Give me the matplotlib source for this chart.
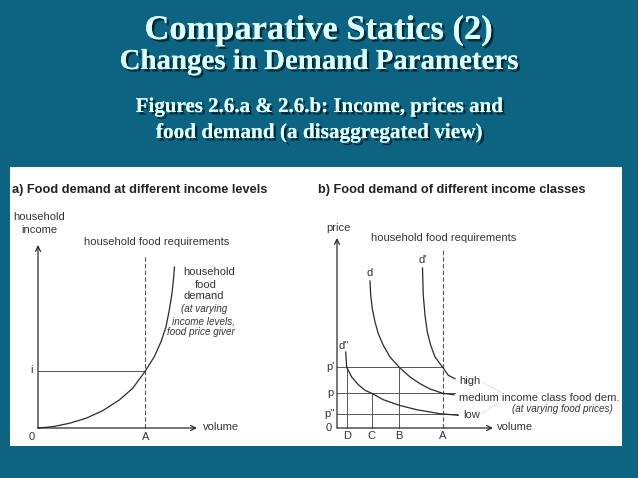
import matplotlib
matplotlib.use("Agg")
import matplotlib.pyplot as plt
import matplotlib.patheffects as pe
from matplotlib.patches import Rectangle

# ---------------- data ----------------
title_lines = ["Comparative Statics (2)", "Changes in Demand Parameters",
               "Figures 2.6.a & 2.6.b: Income, prices and",
               "food demand (a disaggregated view)"]

# panel a: household food demand vs income
a_curve_x = [0, 1.47, 3.13, 4.8, 6.47, 8.13, 9.47, 10.73, 11.63, 12.3, 12.8, 13.13, 13.4, 13.57, 13.65]
a_curve_y = [0, 0.13, 0.47, 0.97, 1.73, 2.8, 3.97, 5.7, 7.13, 8.63, 10.13, 11.8, 13.47, 15.13, 16.1]
a_req_A = 10.73
a_income_i = 5.7

# panel b: demand curves of income classes
b_req_A = 10.57
b_vol_labels = ["D", "C", "B", "A"]
b_vol_values = [0.97, 3.47, 6.23, 10.57]
b_price_labels = ["p'", "p", "p''"]
b_price_values = [6.07, 3.47, 1.37]
low_x = [0.87, 0.97, 1.47, 2.13, 2.8, 3.47, 4.63, 6.23, 7.97, 10.3, 12.13]
low_y = [7.6, 6.07, 5.1, 4.33, 3.77, 3.47, 2.83, 2.27, 1.83, 1.43, 1.27]
med_x = [3.30, 3.37, 3.53, 3.80, 4.13, 4.63, 5.30, 6.23, 7.30, 8.30, 9.30, 10.57, 11.7]
med_y = [14.7, 13.27, 11.93, 10.60, 9.43, 8.27, 7.10, 6.07, 5.10, 4.43, 3.90, 3.47, 3.33]
high_x = [8.55, 8.57, 8.63, 8.80, 9.03, 9.37, 9.80, 10.57, 11.13, 11.8]
high_y = [16.0, 15.27, 13.27, 11.27, 9.60, 8.27, 7.10, 6.07, 5.27, 4.93]

# ---------------- figure ----------------
W, H = 638, 478
fig = plt.figure(figsize=(W / 100, H / 100), dpi=100)
bg = "#0d6482"
fig.patch.set_facecolor(bg)

# white panel
fig.patches.append(Rectangle((10 / W, (H - 446) / H), 612 / W, 279 / H,
                             transform=fig.transFigure, facecolor="white",
                             edgecolor="none", zorder=-5))

shadow = [pe.withSimplePatchShadow(offset=(1.8, -1.8), shadow_rgbFace="#06222c", alpha=0.9),
          pe.Normal()]
tcol = "#dcffff"
title_base = [39, 69, 112, 138]
title_size = [24.8, 20.8, 15.1, 15.3]
for txt, yy, fs in zip(title_lines, title_base, title_size):
    fig.text(0.5, 1 - yy / H, txt, ha="center", va="baseline", fontsize=fs,
             family="Liberation Serif", fontweight="bold", color=tcol,
             path_effects=shadow)

lab = dict(family="Liberation Sans", fontsize=8.0, color="#333333")
ital = dict(family="Liberation Sans", fontsize=7.1, color="#333333", style="italic")
head = dict(family="Liberation Sans", fontweight="bold",
            fontsize=9.2, color="#222222", va="center", ha="left")
ink = "#2a2a2a"
thin = "#555555"


def make_axes(x0):
    ax = fig.add_axes([x0 / W, (H - 446) / H, 306 / W, 279 / H])
    ax.set_axis_off()
    ax.patch.set_alpha(0)
    ax.set_zorder(2)
    return ax


def draw_axes(ax, xend, yend):
    arrow = dict(arrowstyle="->", color=ink, lw=0.9, shrinkA=0, shrinkB=0,
                 mutation_scale=9)
    ax.annotate("", xy=(xend, 0), xytext=(0, 0), arrowprops=arrow)
    ax.annotate("", xy=(0, yend), xytext=(0, 0), arrowprops=arrow)


# ---- panel a ----
axa = make_axes(10)
axa.set_xlim(-2.8, 27.8)
axa.set_ylim(-1.8, 26.1)
draw_axes(axa, 15.9, 18.3)
axa.plot([0, a_req_A], [a_income_i, a_income_i], color=thin, lw=0.7)
axa.plot([a_req_A, a_req_A], [0, 17.3], color=thin, lw=0.8, ls=(0, (4, 2)))
axa.plot(a_curve_x, a_curve_y, color=ink, lw=0.9)
axa.text(-2.6, 23.8, "a) Food demand at different income levels", **head)
axa.text(0.1, 21.1, "household", ha="center", va="center", **lab)
axa.text(0.1, 19.8, "income", ha="center", va="center", **lab)
axa.text(11.9, 18.6, "household food requirements", ha="center", va="center", **lab)
axa.text(17.1, 15.6, "household", ha="center", va="center", **lab)
axa.text(16.8, 14.3, "food", ha="center", va="center", **lab)
axa.text(16.6, 13.2, "demand", ha="center", va="center", **lab)
axa.text(16.6, 11.9, "(at varying", ha="center", va="center", **ital)
axa.text(16.5, 10.7, "income levels,", ha="center", va="center", **ital)
axa.text(16.3, 9.6, "food price giver", ha="center", va="center", **ital)
axa.text(-0.6, a_income_i + 0.1, "i", ha="center", va="center", **lab)
axa.text(-0.6, -0.9, "0", ha="center", va="center", **lab)
axa.text(a_req_A, -0.9, "A", ha="center", va="center", **lab)
axa.text(16.5, 0.1, "volume", ha="left", va="center", **lab)

# ---- panel b ----
axb = make_axes(316)
axb.set_xlim(-2.1, 28.5)
axb.set_ylim(-1.8, 26.1)
draw_axes(axb, 15.6, 19.0)
h_ends = [b_req_A, 11.8, 11.97]
for pv, pe_ in zip(b_price_values, h_ends):
    axb.plot([0, pe_], [pv, pv], color=thin, lw=0.7)
v_tops = [b_price_values[0], b_price_values[1], b_price_values[0]]
for vv, vt in zip(b_vol_values[:3], v_tops):
    axb.plot([vv, vv], [0, vt], color=thin, lw=0.7)
axb.plot([b_req_A, b_req_A], [0, 17.8], color=thin, lw=0.8, ls=(0, (4, 2)))
axb.plot(low_x, low_y, color=ink, lw=0.9)
axb.plot(med_x, med_y, color=ink, lw=0.9)
axb.plot(high_x, high_y, color=ink, lw=0.9)

axb.text(-1.9, 23.8, "b) Food demand of different income classes", **head)
axb.text(0.1, 20.0, "price", ha="center", va="center", **lab)
axb.text(10.7, 19.0, "household food requirements", ha="center", va="center", **lab)
axb.text(8.6, 16.8, "d'", ha="center", va="center", **lab)
axb.text(3.3, 15.5, "d", ha="center", va="center", **lab)
axb.text(0.7, 8.2, "d''", ha="center", va="center", **lab)
for lbl, pv in zip(b_price_labels, b_price_values):
    axb.text(-0.7, pv, lbl, ha="center", va="center", **lab)
axb.text(-0.8, 0.0, "0", ha="center", va="center", **lab)
for lbl, vv in zip(b_vol_labels, b_vol_values):
    axb.text(vv, -0.8, lbl, ha="center", va="center", **lab)
axb.text(16.0, 0.1, "volume", ha="left", va="center", **lab)
axb.text(12.2, 4.7, "high", ha="left", va="center", **lab)
axb.text(12.2, 3.0, "medium income class food dem.", ha="left", va="center", **lab)
axb.text(12.6, 1.3, "low", ha="left", va="center", **lab)
axb.text(27.6, 1.9, "(at varying food prices)", ha="right", va="center", **ital)
axb.plot([14.5, 16.5], [4.6, 3.5], color="#aaaaaa", lw=0.6, ls=":")
axb.plot([14.2, 16.2], [1.3, 2.5], color="#aaaaaa", lw=0.6, ls=":")

fig.savefig("out.png", dpi=100, facecolor=bg)
